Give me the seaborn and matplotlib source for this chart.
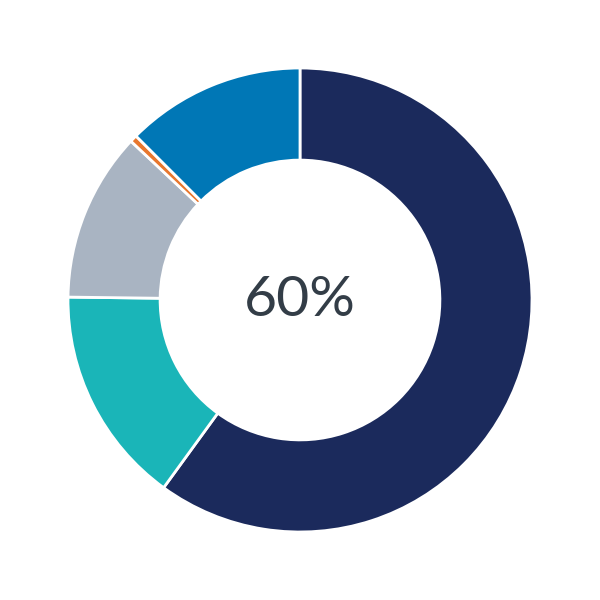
import matplotlib
matplotlib.use("Agg")
import matplotlib.pyplot as plt
import seaborn as sns

# slices, clockwise from 12 o'clock
labels = ["Navy", "Teal", "Gray", "Orange", "Blue"]
values = [60, 15.2, 11.8, 0.5, 12.5]
colors = ["#1b2a5c", "#1ab5b8", "#a9b4c2", "#e8772e", "#0077b6"]
center_text = "60%"

sns.set_theme(style="white")
plt.rcParams["font.family"] = ["Lato", "DejaVu Sans"]

fig = plt.figure(figsize=(6, 6), dpi=100)
ax = fig.add_axes([0, 0, 1, 1])

ax.pie(values, colors=colors, startangle=90, counterclock=False, radius=1,
       wedgeprops=dict(width=0.397, edgecolor="white", linewidth=2))

ax.text(0, 0, center_text, ha="center", va="center", fontsize=41,
        color="#333d47")

lim = 300 / 232
ax.set_xlim(-lim, lim)
ax.set_ylim(-lim, lim)
ax.set_aspect("equal")
ax.axis("off")

fig.savefig("out.png", dpi=100, facecolor="white")
